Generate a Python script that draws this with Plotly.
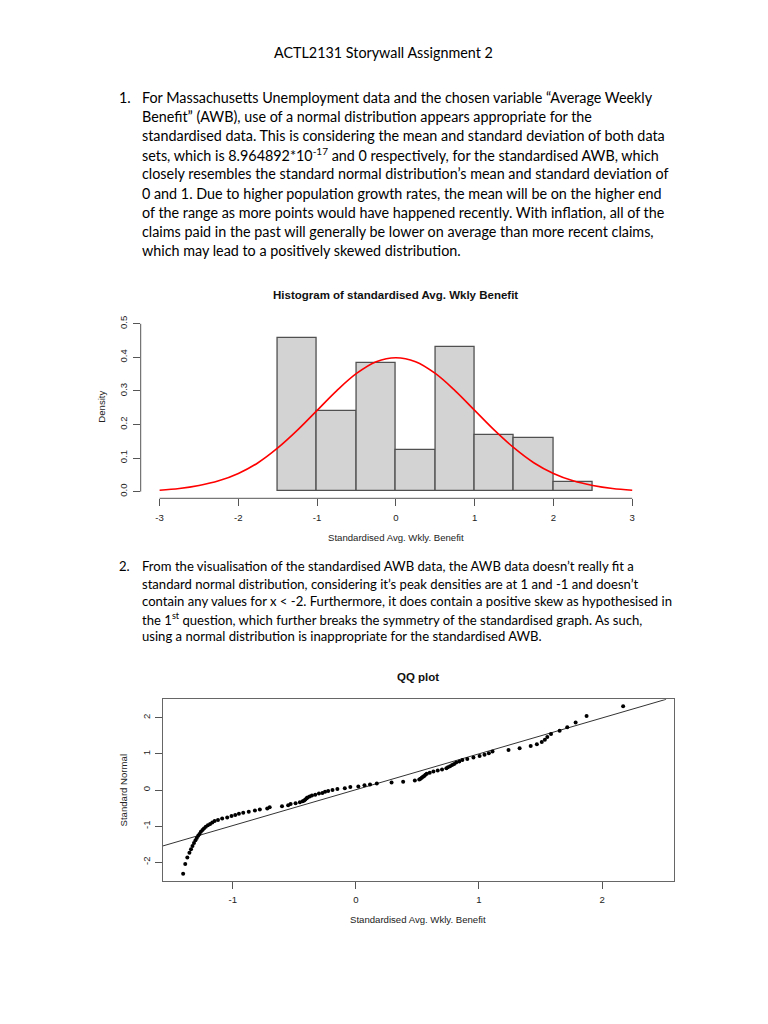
import plotly.graph_objects as go

# ---------------- data ----------------
hist_bin_left = [-1.5, -1.0, -0.5, 0.0, 0.5, 1.0, 1.5, 2.0]
hist_bin_right = [-1.0, -0.5, 0.0, 0.5, 1.0, 1.5, 2.0, 2.5]
hist_density = [0.458, 0.241, 0.384, 0.124, 0.432, 0.169, 0.160, 0.028]

curve_x = [-3.0, -2.75, -2.5, -2.25, -2.0, -1.75, -1.5, -1.25, -1.0, -0.75, -0.5, -0.25, 0.0,
           0.25, 0.5, 0.75, 1.0, 1.25, 1.5, 1.75, 2.0, 2.25, 2.5, 2.75, 3.0]
curve_y = [0.004, 0.009, 0.018, 0.032, 0.054, 0.086, 0.130, 0.183, 0.242, 0.301, 0.352, 0.387, 0.399,
           0.387, 0.352, 0.301, 0.242, 0.183, 0.130, 0.086, 0.054, 0.032, 0.018, 0.009, 0.004]

hist_xticks = [-3, -2, -1, 0, 1, 2, 3]
hist_xtick_text = ["-3", "-2", "-1", "0", "1", "2", "3"]
hist_yticks = [0.0, 0.1, 0.2, 0.3, 0.4, 0.5]
hist_ytick_text = ["0.0", "0.1", "0.2", "0.3", "0.4", "0.5"]

qq_x = [-1.403, -1.386, -1.369, -1.352, -1.339, -1.327, -1.315, -1.303, -1.292, -1.281,
        -1.270, -1.259, -1.246, -1.234, -1.219, -1.202, -1.184, -1.166, -1.147, -1.120,
        -1.086, -1.045, -1.010, -0.980, -0.950, -0.915, -0.870, -0.820, -0.780, -0.720,
        -0.700, -0.600, -0.550, -0.530, -0.490, -0.455, -0.432, -0.420, -0.410, -0.400,
        -0.393, -0.375, -0.357, -0.330, -0.300, -0.272, -0.250, -0.225,
        -0.190,
        -0.150, -0.090, -0.045, 0.020, 0.070, 0.115, 0.170, 0.290, 0.384, 0.479,
        0.515, 0.525, 0.535, 0.545, 0.555, 0.565, 0.576, 0.600, 0.630, 0.665,
        0.700, 0.735, 0.748, 0.765, 0.782, 0.798, 0.815, 0.840, 0.865, 0.905,
        0.955, 1.005, 1.045, 1.080, 1.110, 1.240, 1.330, 1.420, 1.470, 1.510,
        1.535, 1.555, 1.585, 1.655, 1.717, 1.785, 1.874, 2.171]
qq_y = [-2.32, -2.05, -1.87, -1.74, -1.64, -1.55, -1.47, -1.39, -1.33, -1.27,
        -1.22, -1.16, -1.11, -1.07, -1.02, -0.98, -0.94, -0.90, -0.86, -0.83,
        -0.79, -0.76, -0.72, -0.69, -0.66, -0.63, -0.60, -0.57, -0.54, -0.51,
        -0.48, -0.45, -0.42, -0.39, -0.37, -0.34, -0.31, -0.29, -0.26, -0.23,
        -0.21, -0.18, -0.15, -0.13, -0.10, -0.08, -0.05, -0.03,
        0.00,
        0.03, 0.05, 0.08, 0.10, 0.13, 0.15, 0.18, 0.21, 0.23, 0.26,
        0.29, 0.31, 0.34, 0.37, 0.39, 0.42, 0.45, 0.48, 0.51, 0.54,
        0.57, 0.60, 0.63, 0.66, 0.69, 0.72, 0.76, 0.79, 0.83, 0.86,
        0.90, 0.94, 0.98, 1.02, 1.07, 1.11, 1.16, 1.22, 1.27, 1.33,
        1.39, 1.47, 1.55, 1.64, 1.74, 1.87, 2.05, 2.32]
qq_line_x = [-1.57, 2.52]
qq_line_y = [-1.553, 2.514]

qq_xticks = [-1, 0, 1, 2]
qq_xtick_text = ["-1", "0", "1", "2"]
qq_yticks = [-2, -1, 0, 1, 2]
qq_ytick_text = ["-2", "-1", "0", "1", "2"]

doc_title = "ACTL2131 Storywall Assignment 2"
para1_lines = [
    "For Massachusetts Unemployment data and the chosen variable \u201cAverage Weekly",
    "Benefit\u201d (AWB), use of a normal distribution appears appropriate for the",
    "standardised data. This is considering the mean and standard deviation of both data",
    "sets, which is 8.964892*10<sup>-17</sup> and 0 respectively, for the standardised AWB, which",
    "closely resembles the standard normal distribution\u2019s mean and standard deviation of",
    "0 and 1. Due to higher population growth rates, the mean will be on the higher end",
    "of the range as more points would have happened recently. With inflation, all of the",
    "claims paid in the past will generally be lower on average than more recent claims,",
    "which may lead to a positively skewed distribution.",
]
para2_lines = [
    "From the visualisation of the standardised AWB data, the AWB data doesn\u2019t really fit a",
    "standard normal distribution, considering it\u2019s peak densities are at 1 and -1 and doesn\u2019t",
    "contain any values for x &lt; -2. Furthermore, it does contain a positive skew as hypothesised in",
    "the 1<sup>st</sup> question, which further breaks the symmetry of the standardised graph. As such,",
    "using a normal distribution is inappropriate for the standardised AWB.",
]
hist_title = "Histogram of standardised Avg. Wkly Benefit"
hist_xlabel = "Standardised Avg. Wkly. Benefit"
hist_ylabel = "Density"
qq_title = "QQ plot"
qq_xlabel = "Standardised Avg. Wkly. Benefit"
qq_ylabel = "Standard Normal"

# ---------------- layout helpers ----------------
W, H = 768, 1024
def fx(px):
    return px / W
def fy(py):
    return 1 - py / H

R_FONT = "Liberation Sans, Arial, sans-serif"
DOC_FONT = "Lato, Carlito, Calibri, sans-serif"
DOC_SIZE1 = 14.35
DOC_SIZE2 = 13.1

fig = go.Figure()

# histogram bars
centers = [(a + b) / 2 for a, b in zip(hist_bin_left, hist_bin_right)]
widths = [b - a for a, b in zip(hist_bin_left, hist_bin_right)]
fig.add_trace(go.Bar(x=centers, y=hist_density, width=widths,
                     marker=dict(color="#d3d3d3", line=dict(color="#505050", width=1.3)),
                     xaxis="x", yaxis="y", showlegend=False, hoverinfo="skip"))
fig.add_trace(go.Scatter(x=curve_x, y=curve_y, mode="lines",
                         line=dict(color="#ff0000", width=1.6, shape="spline"),
                         xaxis="x", yaxis="y", showlegend=False, hoverinfo="skip"))

# QQ plot
fig.add_trace(go.Scatter(x=qq_line_x, y=qq_line_y, mode="lines",
                         line=dict(color="#333333", width=1),
                         xaxis="x2", yaxis="y2", showlegend=False, hoverinfo="skip"))
fig.add_trace(go.Scatter(x=qq_x, y=qq_y, mode="markers",
                         marker=dict(color="#000000", size=4),
                         xaxis="x2", yaxis="y2", showlegend=False, hoverinfo="skip"))

tickfont = dict(family=R_FONT, size=9.6, color="#222222")
axis_common = dict(ticks="outside", ticklen=7, tickwidth=1, tickcolor="#555555",
                   showgrid=False, zeroline=False, tickfont=tickfont, fixedrange=True)

fig.update_layout(
    width=W, height=H, margin=dict(l=0, r=0, t=0, b=0),
    paper_bgcolor="white", plot_bgcolor="white",
    bargap=0,
    xaxis=dict(domain=[fx(140.7), fx(651.1)], range=[-3.24, 3.24], anchor="y",
               tickvals=hist_xticks, ticktext=hist_xtick_text, showline=False,
               ticklabelstandoff=3, **axis_common),
    yaxis=dict(domain=[fy(498.3), fy(317.1)], range=[-0.02, 0.52], anchor="x",
               tickvals=hist_yticks, ticktext=hist_ytick_text, showline=False,
               tickangle=-90, ticklabelstandoff=2, **axis_common),
    xaxis2=dict(domain=[fx(162.7), fx(674.0)], range=[-1.569, 2.584], anchor="y2",
                tickvals=qq_xticks, ticktext=qq_xtick_text, showline=True, mirror=True,
                linecolor="#666666", linewidth=1, ticklabelstandoff=3, **axis_common),
    yaxis2=dict(domain=[fy(880.7), fy(699.3)], range=[-2.514, 2.514], anchor="x2",
                tickvals=qq_yticks, ticktext=qq_ytick_text, showline=True, mirror=True,
                linecolor="#666666", linewidth=1, tickangle=-90, ticklabelstandoff=1,
                **axis_common),
)

# R-style detached axis lines for histogram
fig.add_shape(type="line", xref="x", yref="paper", x0=hist_xticks[0], x1=hist_xticks[-1],
              y0=fy(498.3), y1=fy(498.3), line=dict(color="#555555", width=1))
fig.add_shape(type="line", xref="paper", yref="y", x0=fx(140.7), x1=fx(140.7),
              y0=hist_yticks[0], y1=hist_yticks[-1], line=dict(color="#555555", width=1))

ann = []
def text(px, py, s, size, family, bold=False, xanchor="left", angle=0, color="#000000"):
    if bold:
        s = "<b>" + s + "</b>"
    ann.append(dict(x=fx(px), y=fy(py), xref="paper", yref="paper", text=s, showarrow=False,
                    xanchor=xanchor, yanchor="middle", textangle=angle,
                    font=dict(family=family, size=size, color=color)))

# document text
text(383.6, 52, doc_title, DOC_SIZE1, DOC_FONT, xanchor="center")
text(117, 97, "1.", DOC_SIZE1, DOC_FONT)
for k, line in enumerate(para1_lines):
    text(140, 97 + 19.2 * k, line, DOC_SIZE1, DOC_FONT)
text(117, 566, "2.", DOC_SIZE2, DOC_FONT)
for k, line in enumerate(para2_lines):
    text(140, 566 + 17.5 * k, line, DOC_SIZE2, DOC_FONT)

# chart titles / labels
text(395.9, 295, hist_title, 11.5, R_FONT, bold=True, xanchor="center", color="#111111")
text(395.9, 537.7, hist_xlabel, 9.6, R_FONT, xanchor="center", color="#222222")
text(100.7, 407, hist_ylabel, 9.6, R_FONT, xanchor="center", angle=-90, color="#222222")
text(418.4, 676.7, qq_title, 11.5, R_FONT, bold=True, xanchor="center", color="#111111")
text(418.4, 919.3, qq_xlabel, 9.6, R_FONT, xanchor="center", color="#222222")
text(122.5, 790, qq_ylabel, 9.6, R_FONT, xanchor="center", angle=-90, color="#222222")

fig.update_layout(annotations=ann)

fig.write_html("out.html", post_script="document.body.style.margin='0';",
               config={"displayModeBar": False})
